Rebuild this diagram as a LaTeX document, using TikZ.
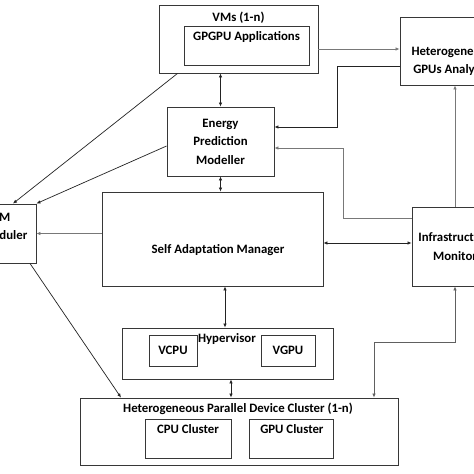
\documentclass[tikz,border=0pt]{standalone}
\usepackage{fontspec}
\setmainfont{Carlito}
\usetikzlibrary{arrows.meta, positioning, calc}
\definecolor{edge}{RGB}{55,55,55}
\definecolor{wire}{RGB}{35,35,35}
\definecolor{pale}{RGB}{120,120,120}

\begin{document}
\begin{tikzpicture}[
      x=1pt, y=-1pt,
      box/.style={rectangle, draw=edge, line width=0.9pt, inner sep=0pt,
                  font=\bfseries\fontsize{12.8}{18.5}\selectfont, align=center},
      lbl/.style={inner sep=0pt, font=\bfseries\fontsize{12.8}{18}\selectfont, align=center},
      arr/.style={-{Latex[length=4pt,width=3.5pt]}, line width=0.7pt, draw=wire},
      arrgrey/.style={arr, draw=pale},
      both/.style={{Latex[length=4pt,width=3.5pt]}-{Latex[length=4pt,width=3.5pt]}, line width=0.7pt, draw=wire}
    ]
    \useasboundingbox (0,0) rectangle (474,474);
    \clip (0,0) rectangle (474,474);
    \fill[white] (0,0) rectangle (474,474);
    % top row
    \node[box, minimum width=159pt, minimum height=68pt] (vms) at (238.5,39) {};
    \node[lbl, below=7pt of vms.north] (vms-t) {VMs (1-n)};
    \node[box, minimum width=125pt, minimum height=39pt] (gpgpu) at (246.5,45.5) {};
    \node[lbl, below=6pt of gpgpu.north] (gpgpu-t) {GPGPU Applications};
    \node[box, minimum width=104pt, minimum height=68pt] (hga) at (452,51) {};
    \node[lbl] (hga-t) at (452,61) {Heterogeneous\\GPUs Analyser};
    \node[box, minimum width=107pt, minimum height=69pt] (epm) at (220.5,141.5) {Energy\\Prediction\\Modeller};
    % middle row
    \node[box, minimum width=221pt, minimum height=94pt] (sam) at (212.5,239) {};
    \node[lbl] (sam-t) at (218,250) {Self Adaptation Manager};
    \node[box, minimum width=72pt, minimum height=59pt] (vmsch) at (0,233.5) {};
    \node[lbl] (vmsch-t) at (1,226.5) {VM\\Scheduler};
    \node[box, minimum width=86pt, minimum height=79pt] (im) at (455,246.5) {Infrastructure\\Monitor};
    % hypervisor
    \node[box, minimum width=211pt, minimum height=51pt] (hyp) at (227.5,353.5) {};
    \node[lbl] (hyp-t) at (227,339) {Hypervisor};
    \node[box, minimum width=48pt, minimum height=31pt] (vcpu) at (173,350.5) {VCPU};
    \node[box, minimum width=54pt, minimum height=31pt] (vgpu) at (288,350.5) {VGPU};
    % device cluster
    \node[box, minimum width=318pt, minimum height=67pt] (hpdc) at (239,431.5) {};
    \node[lbl] (hpdc-t) at (238,409) {Heterogeneous Parallel Device Cluster (1-n)};
    \node[box, minimum width=86pt, minimum height=39pt] (cpuc) at (188,438.5) {};
    \node[lbl, below=6pt of cpuc.north] (cpuc-t) {CPU Cluster};
    \node[box, minimum width=84pt, minimum height=39pt, right=18pt of cpuc] (gpuc) {};
    \node[lbl, below=6pt of gpuc.north] (gpuc-t) {GPU Cluster};
    % connectors
    \draw[both] (vms.south -| epm.north) -- (epm.north);
    \draw[both] (epm.south) -- (epm.south |- sam.north);
    \draw[arr] ([xshift=-61pt]vms.south) -- ([xshift=13pt]vmsch.north);
    \draw[arr] ([yshift=-4.5pt]epm.west) -- (vmsch.north east);
    \draw[arrgrey] (sam.west |- vmsch.east) -- (vmsch.east);
    \draw[arr] ([xshift=30pt]vmsch.south) -- ([xshift=-118pt]hpdc.north);
    \draw[arrgrey] ([yshift=-10pt]vms.east) -- ([yshift=-10pt]vms.east -| hga.west);
    \draw[arr] ([yshift=-15pt]hga.west) -| (337,127) -- ([yshift=14.5pt]epm.east);
    \draw[arrgrey] ([yshift=28.5pt]im.west) -| (343,148) -- ([yshift=-6.5pt]epm.east);
    \draw[arrgrey] (im.north) -- (im.north |- hga.south);
    \draw[both] ([yshift=-4pt]sam.east) -- ([yshift=-4pt]sam.east -| im.west);
    \draw[both] ([xshift=12.5pt]sam.south) -- ([xshift=12.5pt]sam.south |- hyp.north);
    \draw[both] ([xshift=3.5pt]hyp.south) -- ([xshift=3.5pt]hyp.south |- hpdc.north);
    \draw[both, draw=pale!80!black] (im.south) |- (374,342) -- ([xshift=135pt]hpdc.north);
  \end{tikzpicture}
\end{document}
